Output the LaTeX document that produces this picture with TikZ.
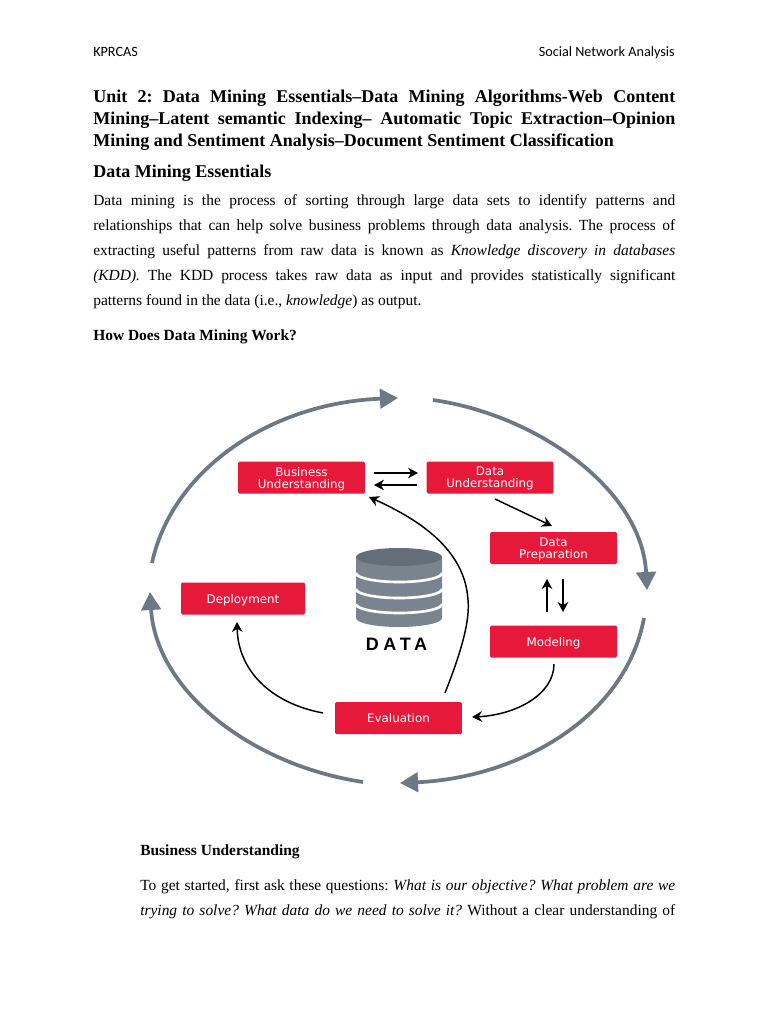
\documentclass[tikz,border=0pt]{standalone}
\usepackage{fontspec}
\usetikzlibrary{arrows.meta}
\setmainfont{Liberation Serif}
\newfontfamily\hdrfont{Carlito}
\newfontfamily\boxfont{DejaVu Sans}
\newfontfamily\datafont[LetterSpace=26]{Liberation Sans}
\definecolor{boxred}{HTML}{E6193A}
\definecolor{ringgray}{HTML}{6C7883}
\definecolor{dbside}{HTML}{7A848E}
\definecolor{dbtop}{HTML}{636E79}
\newcommand{\fullline}[2]{\makebox[\dimexpr #1pt*3/4\relax][s]{#2}}
\frenchspacing
\tikzset{
  x=0.75pt,y=-0.75pt,
  redbox/.style={fill=boxred,rounded corners=1pt,text=white,font=\boxfont\fontsize{8.9}{9}\selectfont,align=center,inner sep=0pt,text depth=0pt},
  ring/.style={draw=ringgray,line width=2.8pt,-{Triangle[length=13.5pt,width=14.5pt]}},
  flow/.style={draw=black,line width=1.1pt,-{Stealth[length=7.5pt,width=8pt]}},
  hdr/.style={anchor=base west,inner sep=0pt,font=\hdrfont\fontsize{10.65}{12}\selectfont},
  titlel/.style={anchor=base west,inner sep=0pt,font=\bfseries\fontsize{13.5}{15}\selectfont},
  bodyl/.style={anchor=base west,inner sep=0pt,font=\frenchspacing\fontsize{11.6}{13}\selectfont},
  dbarc/.style={draw=white,line width=2pt},
}
\begin{document}
\begin{tikzpicture}
\useasboundingbox[fill=white] (0,0) rectangle (768,1024);
% header
\node[hdr] (hl) at (93,56.5) {KPRCAS};
\node[hdr,anchor=base east] (hr) at (675,56.5) {Social Network Analysis};
% title
\node[titlel] (t1) at (93,103) {\fullline{582}{Unit 2: Data Mining Essentials–Data Mining Algorithms-Web Content}};
\node[titlel] (t2) at (93,124.5) {\fullline{582}{Mining–Latent semantic Indexing– Automatic Topic Extraction–Opinion}};
\node[titlel] (t3) at (93,146.5) {Mining and Sentiment Analysis–Document Sentiment Classification};
\node[titlel] (t4) at (93,177) {Data Mining Essentials};
% body
\node[bodyl] (b1) at (93,205.5) {\fullline{582}{Data mining is the process of sorting through large data sets to identify patterns and}};
\node[bodyl] (b2) at (93,230.5) {\fullline{582}{relationships that can help solve business problems through data analysis. The process of}};
\node[bodyl] (b3) at (93,255.5) {\fullline{582}{extracting useful patterns from raw data is known as \textit{Knowledge discovery in databases}}};
\node[bodyl] (b4) at (93,280.5) {\fullline{582}{\textit{(KDD).} The KDD process takes raw data as input and provides statistically significant}};
\node[bodyl] (b5) at (93,305.5) {patterns found in the data (i.e., \textit{knowledge}) as output.};
\node[bodyl,font=\bfseries\fontsize{11.6}{13}\selectfont] (h1) at (93,340.5) {How Does Data Mining Work?};
\node[bodyl,font=\bfseries\fontsize{11.6}{13}\selectfont] (h2) at (140,855.5) {Business Understanding};
\node[bodyl] (p1) at (140,890.5) {\fullline{535}{To get started, first ask these questions: \textit{What is our objective? What problem are we}}};
\node[bodyl] (p2) at (140,915.5) {\fullline{535}{\textit{trying to solve? What data do we need to solve it?} Without a clear understanding of}};
% boxes
\node[redbox,minimum width=95pt,minimum height=24pt] (bu) at (301.5,477.5) {Business\\Understanding};
\node[redbox,minimum width=95pt,minimum height=24pt] (du) at (490,477.5) {Data\\Understanding};
\node[redbox,minimum width=95pt,minimum height=24pt] (dp) at (553.5,548) {Data\\Preparation};
\node[redbox,minimum width=95pt,minimum height=24pt] (mo) at (553.5,641.5) {Modeling};
\node[redbox,minimum width=95pt,minimum height=24pt] (ev) at (398.5,718) {Evaluation};
\node[redbox,minimum width=93pt,minimum height=24pt] (de) at (243,598.5) {Deployment};
% database
\fill[dbside] (356,557) -- (356,618) arc[start angle=180,end angle=360,x radius=43,y radius=-9] -- (442,557) -- cycle;
\fill[dbtop] (399,557) ellipse[x radius=43,y radius=-9];
\draw[dbarc] (356,573) arc[start angle=180,end angle=360,x radius=43,y radius=-9];
\draw[dbarc] (356,589) arc[start angle=180,end angle=360,x radius=43,y radius=-9];
\draw[dbarc] (356,604) arc[start angle=180,end angle=360,x radius=43,y radius=-9];
\node[inner sep=0pt,font=\datafont\bfseries\fontsize{13.5}{14}\selectfont] (dt) at (396.5,644) {DATA};
% coordinates for ring and arrow ends
\coordinate (r1a) at (152,563); \coordinate (r1b) at (398,398);
\coordinate (r2a) at (433,400); \coordinate (r2b) at (647,590);
\coordinate (r3a) at (644,618); \coordinate (r3b) at (400,783);
\coordinate (r4a) at (363,782); \coordinate (r4b) at (150,592);
\draw[ring] (r1a) .. controls (172,470) and (270,403) .. (r1b);
\draw[ring] (r2a) .. controls (538,415) and (642,490) .. (r2b);
\draw[ring] (r3a) .. controls (625,720) and (515,778) .. (r3b);
\draw[ring] (r4a) .. controls (250,765) and (156,690) .. (r4b);
% flows
\coordinate (f1a) at (374,473); \coordinate (f1b) at (418,473);
\coordinate (f2a) at (417,485); \coordinate (f2b) at (374,485);
\coordinate (f3a) at (495,499); \coordinate (f3b) at (552,526);
\coordinate (f4a) at (547,612); \coordinate (f4b) at (547,579);
\coordinate (f5a) at (563,579); \coordinate (f5b) at (563,612);
\coordinate (f6a) at (554,664); \coordinate (f6b) at (472,717);
\coordinate (f7a) at (445,693); \coordinate (f7m) at (468,600); \coordinate (f7b) at (369,497);
\coordinate (f8a) at (323,713); \coordinate (f8b) at (237,622);
\draw[flow] (f1a) -- (f1b);
\draw[flow] (f2a) -- (f2b);
\draw[flow] (f3a) -- (f3b);
\draw[flow] (f4a) -- (f4b);
\draw[flow] (f5a) -- (f5b);
\draw[flow] (f6a) .. controls (554,695) and (515,715) .. (f6b);
\draw[flow] (f7a) .. controls (462,650) and (470,620) .. (f7m) .. controls (465,550) and (420,520) .. (f7b);
\draw[flow] (f8a) .. controls (270,703) and (238,670) .. (f8b);
\end{tikzpicture}
\end{document}
